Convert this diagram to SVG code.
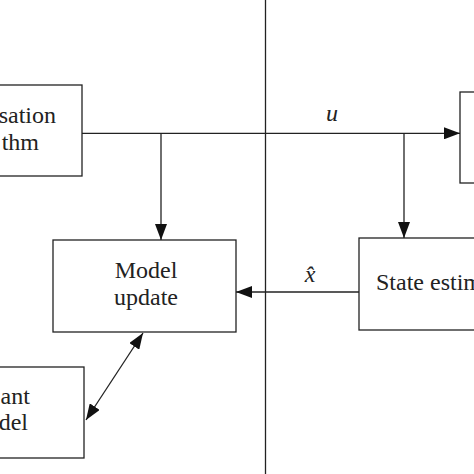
<svg xmlns="http://www.w3.org/2000/svg" width="474" height="474" viewBox="0 0 474 474">
<style>
.box{fill:#fff;stroke:#222;stroke-width:1.3}
.ln{fill:none;stroke:#222;stroke-width:1.3}
text{font-family:"Liberation Serif","DejaVu Serif",serif;font-size:24px;fill:#222}
.m{font-style:italic}
</style>
<defs>
<marker id="ah" viewBox="0 0 16 12" refX="16" refY="6" markerWidth="16" markerHeight="12" markerUnits="userSpaceOnUse" orient="auto-start-reverse">
<path d="M0,0 L16,6 L0,12 Z" fill="#111"/>
</marker>
</defs>
<line class="ln" x1="265.5" y1="0" x2="265.5" y2="474"/>
<g id="algorithm">
<rect class="box" x="-20" y="85" width="102" height="91"/>
<text x="56" y="123" text-anchor="end">sation</text>
<text x="39" y="150" text-anchor="end">thm</text>
</g>
<g id="plant">
<rect class="box" x="-20" y="367" width="104" height="91"/>
<text x="0.5" y="404">ant</text>
<text x="28" y="430" text-anchor="end">del</text>
</g>
<g id="model-update">
<rect class="box" x="53" y="240" width="183" height="92"/>
<text x="146" y="278" text-anchor="middle">Model</text>
<text x="146" y="305" text-anchor="middle">update</text>
</g>
<g id="state-estimator">
<rect class="box" x="359" y="238" width="140" height="92"/>
<text x="376" y="290">State estim</text>
</g>
<g id="plant-right">
<rect class="box" x="460" y="92" width="40" height="91"/>
</g>
<g id="connectors">
<line class="ln" x1="82" y1="133.3" x2="460" y2="133.3" marker-end="url(#ah)"/>
<line class="ln" x1="161" y1="133.3" x2="161" y2="240" marker-end="url(#ah)"/>
<line class="ln" x1="404" y1="133.3" x2="404" y2="238" marker-end="url(#ah)"/>
<line class="ln" x1="359" y1="292" x2="236" y2="292" marker-end="url(#ah)"/>
<line class="ln" x1="86" y1="420" x2="143" y2="333" marker-start="url(#ah)" marker-end="url(#ah)"/>
<text class="m" x="332" y="121" text-anchor="middle">u</text>
<text class="m" x="310" y="282" text-anchor="middle">x̂</text>
</g>
</svg>
